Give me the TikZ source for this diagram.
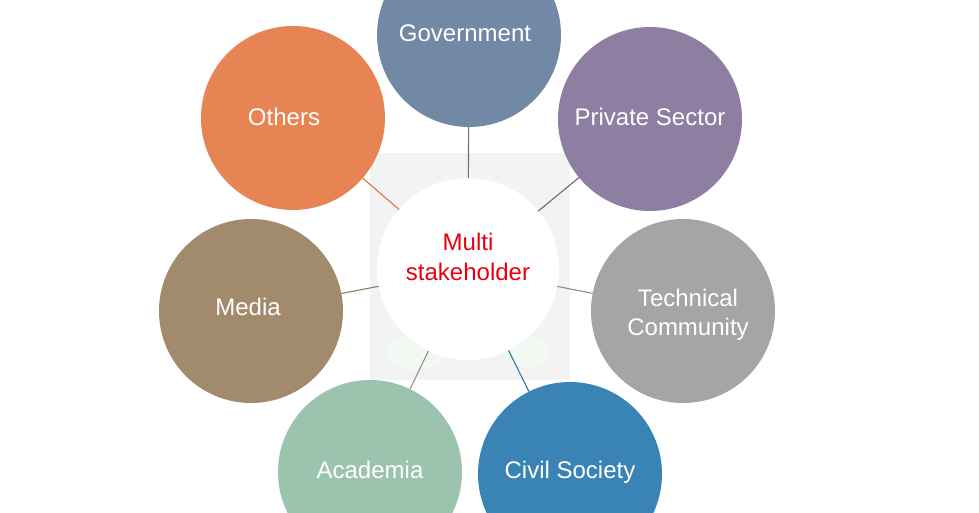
\documentclass[tikz,border=0pt]{standalone}
\usepackage{fontspec}
\setmainfont{Liberation Sans}
\definecolor{govc}{HTML}{7289A5}
\definecolor{privc}{HTML}{8E7EA2}
\definecolor{techc}{HTML}{A5A5A5}
\definecolor{civc}{HTML}{3A83B5}
\definecolor{acac}{HTML}{9CC3AE}
\definecolor{medc}{HTML}{A28A6C}
\definecolor{othc}{HTML}{E68553}
\definecolor{redtxt}{HTML}{E8000E}
\definecolor{bgbox}{HTML}{F3F3F3}
\begin{document}
\begin{tikzpicture}[x=1pt,y=-1pt,
  bub/.style={circle, minimum size=184pt, inner sep=0pt, outer sep=0pt},
  lbl/.style={inner sep=0pt, text=white, font=\fontsize{24}{29}\selectfont, align=center},
  conn/.style={line width=1.1pt}]
\useasboundingbox (0,0) rectangle (979,513);
\clip (0,0) rectangle (979,513);
% faint background picture
\fill[bgbox] (370,153) rectangle (570,380);
\fill[green!30!gray!8] (415,352) ellipse (30 and 18);
\fill[green!30!gray!8] (528,352) ellipse (22 and 16);
% nodes
\node[bub, minimum size=182pt, fill=white] (center) at (468,269) {};
\node[lbl, text=redtxt, font=\fontsize{24}{30}\selectfont] (ctext) at (468,257) {Multi\\stakeholder};
\node[bub, fill=govc] (gov) at (469,35) {};
\node[lbl] (govt) at (465,33) {Government};
\node[bub, fill=privc] (priv) at (650,119) {};
\node[lbl] (privt) at (650,117) {Private Sector};
\node[bub, fill=techc] (tech) at (683,311) {};
\node[lbl] (techt) at (688,315) {Technical\\Community};
\node[bub, fill=civc] (civ) at (570,474) {};
\node[lbl] (civt) at (570,472) {Civil Society};
\node[bub, fill=acac] (aca) at (370,472) {};
\node[lbl] (acat) at (370,470) {Academia};
\node[bub, fill=medc] (med) at (251,311) {};
\node[lbl] (medt) at (248,307) {Media};
\node[bub, fill=othc] (oth) at (293,118) {};
\node[lbl] (otht) at (284,117) {Others};
% connectors
\draw[conn, govc!85!black] (center) -- (gov);
\draw[conn, privc!80!black] (center) -- (priv);
\draw[conn, techc!85!black] (center) -- (tech);
\draw[conn, civc!90!black] (center) -- (civ);
\draw[conn, acac!80!black] (center) -- (aca);
\draw[conn, medc!90!black] (center) -- (med);
\draw[conn, othc!90!black] (center) -- (oth);
\end{tikzpicture}
\end{document}
